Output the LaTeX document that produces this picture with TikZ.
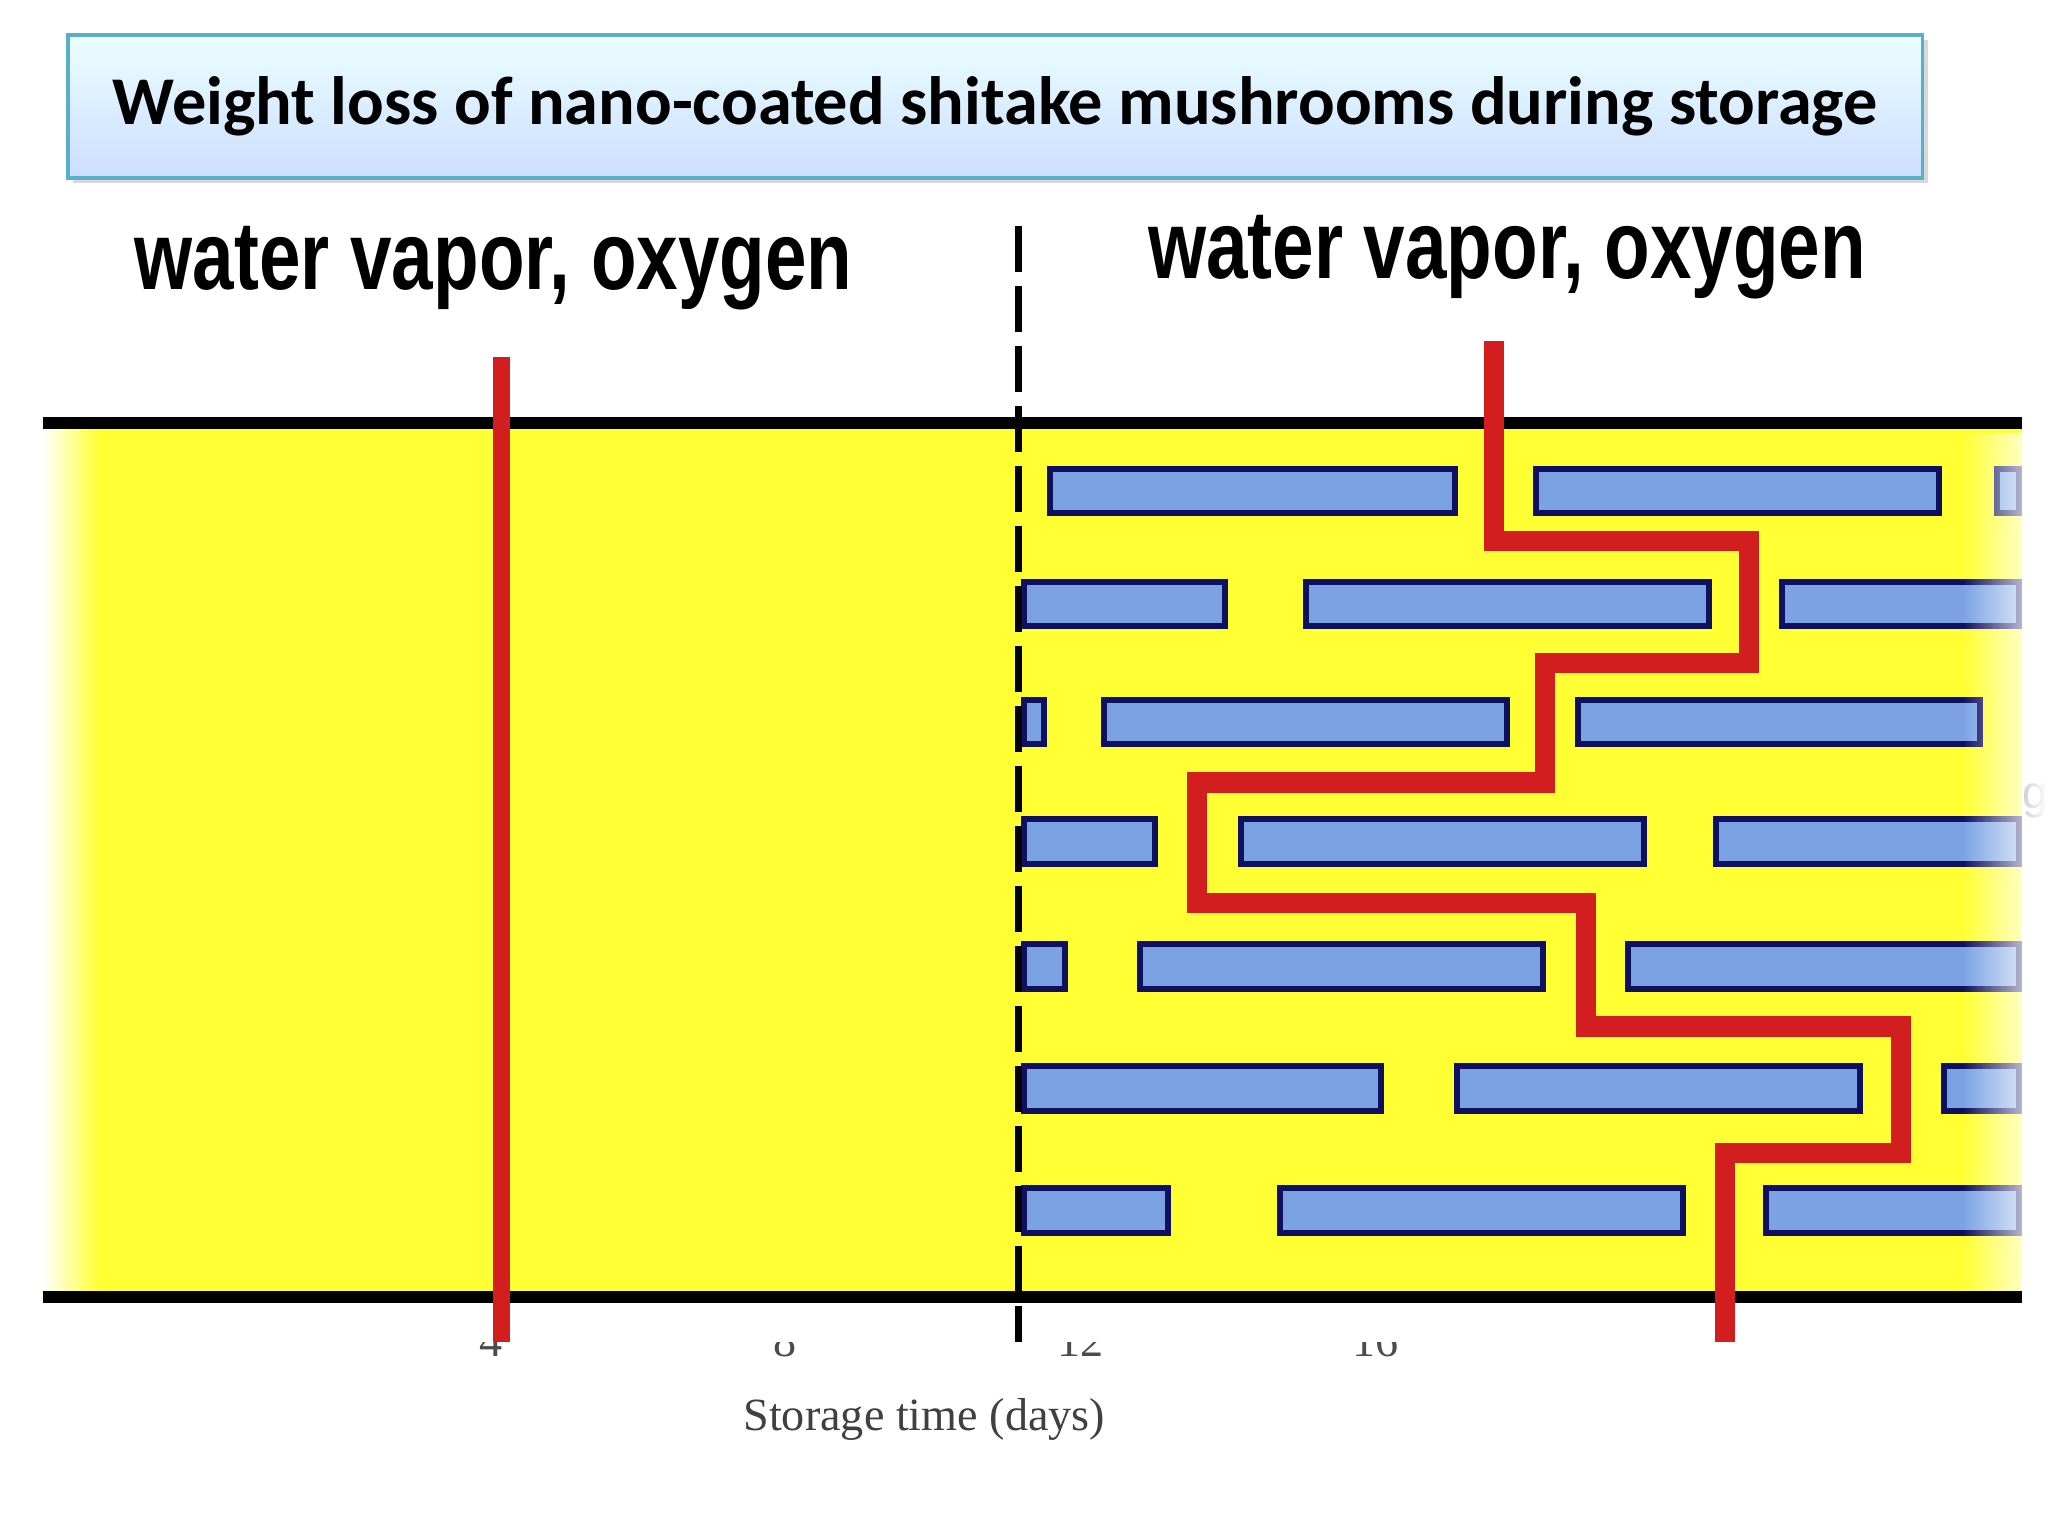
\documentclass[tikz,border=0pt]{standalone}
\usepackage{fontspec}
\setmainfont{Liberation Serif}
\newfontfamily\titlefont{Carlito}
\newfontfamily\labfont{Liberation Sans}
\usetikzlibrary{fadings,shadows}
\tikzfading[name=fadetoright, left color=transparent!100, right color=transparent!0]
\definecolor{bandyellow}{HTML}{FFFF33}
\definecolor{barblue}{HTML}{7BA3E4}
\definecolor{barline}{HTML}{101060}
\definecolor{redline}{HTML}{D21E1E}
\definecolor{titleedge}{HTML}{5AAFC8}
\tikzset{
  bar/.style={fill=barblue, draw=barline, line width=1.3pt},
  redpath/.style={draw=redline, line width=4.4pt},
  blackline/.style={line width=2.6pt, black},
  vapor/.style={font=\labfont\bfseries\fontsize{21}{24}\selectfont, xscale=0.77, inner sep=0},
  tick/.style={font=\fontsize{10}{12}\selectfont, text=black!70, inner sep=0}
}
\begin{document}
\begin{tikzpicture}[x=0.01cm,y=-0.01cm]
\useasboundingbox (0,0) rectangle (1560,1170);
\fill[white] (0,0) rectangle (1560,1170);
% title
\node[draw=titleedge, line width=0.8pt, top color=cyan!8, bottom color=cyan!35!blue!20!white,
  minimum width=14.12cm, minimum height=1.09cm,
  drop shadow={opacity=0.3, shadow xshift=0.04cm, shadow yshift=-0.04cm},
  font=\titlefont\bfseries\fontsize{14.8}{17}\selectfont] (title) at (758,81)
  {Weight loss of nano-coated shitake mushrooms during storage};
% band
\fill[bandyellow] (33,322) rectangle (1540,990);
\shade[left color=white, right color=bandyellow] (33,322) rectangle (75,990);
% tick labels (partly hidden)
\node[tick] (t4) at (374,1022) {4};
\node[tick] (t8) at (598,1022) {8};
\node[tick] (t12) at (823,1022) {12};
\node[tick] (t16) at (1048,1022) {16};
\fill[white] (33,991) rectangle (1540,1022);
\node[font=\fontsize{10}{12}\selectfont, text=black!75] (xlab) at (704,1081) {Storage time (days)};
\node[font=\labfont\fontsize{10}{12}\selectfont, text=black!60, anchor=west, inner sep=0] (g) at (1540,610) {g};
% bars
\foreach \y/\list in {374/{800/1108,1170/1477,1521/1538},
  460/{780/933,995/1302,1357/1538},
  550/{780/795,841/1148,1202/1508},
  641/{780/880,945/1252,1307/1538},
  736/{780/811,868/1175,1240/1538},
  829/{780/1052,1110/1417,1481/1538},
  922/{780/890,975/1282,1345/1538}}{
  \foreach \a/\b in \list {\draw[bar] (\a,\y-17) rectangle (\b,\y+17);}
}
% right fade
\fill[white, path fading=fadetoright] (1495,330) rectangle (1560,985);
% black lines
\draw[blackline] (33,322) -- (1540,322);
\draw[blackline] (33,988) -- (1540,988);
% left red line
\coordinate (l1) at (382,272); \coordinate (l2) at (382,1022);
\draw[draw=redline, line width=3.8pt] (l1) -- (l2);
% dashed line
\coordinate (d1) at (776,172); \coordinate (d2) at (776,1022);
\draw[line width=1.5pt, dash pattern=on 10pt off 3pt] (d1) -- (d2);
% zigzag path
\coordinate (z0) at (1138,260);
\coordinate (z1) at (1314,1022);
\draw[redpath, line join=miter] (z0) -- (1138,412) -- (1332,412) -- (1332,505) -- (1177,505)
  -- (1177,596) -- (912,596) -- (912,688) -- (1208,688) -- (1208,782) -- (1448,782)
  -- (1448,878) -- (1314,878) -- (z1);
% labels
\node[vapor] (v1) at (376,204) {water vapor, oxygen};
\node[vapor] (v2) at (1148,196) {water vapor, oxygen};
\end{tikzpicture}
\end{document}
